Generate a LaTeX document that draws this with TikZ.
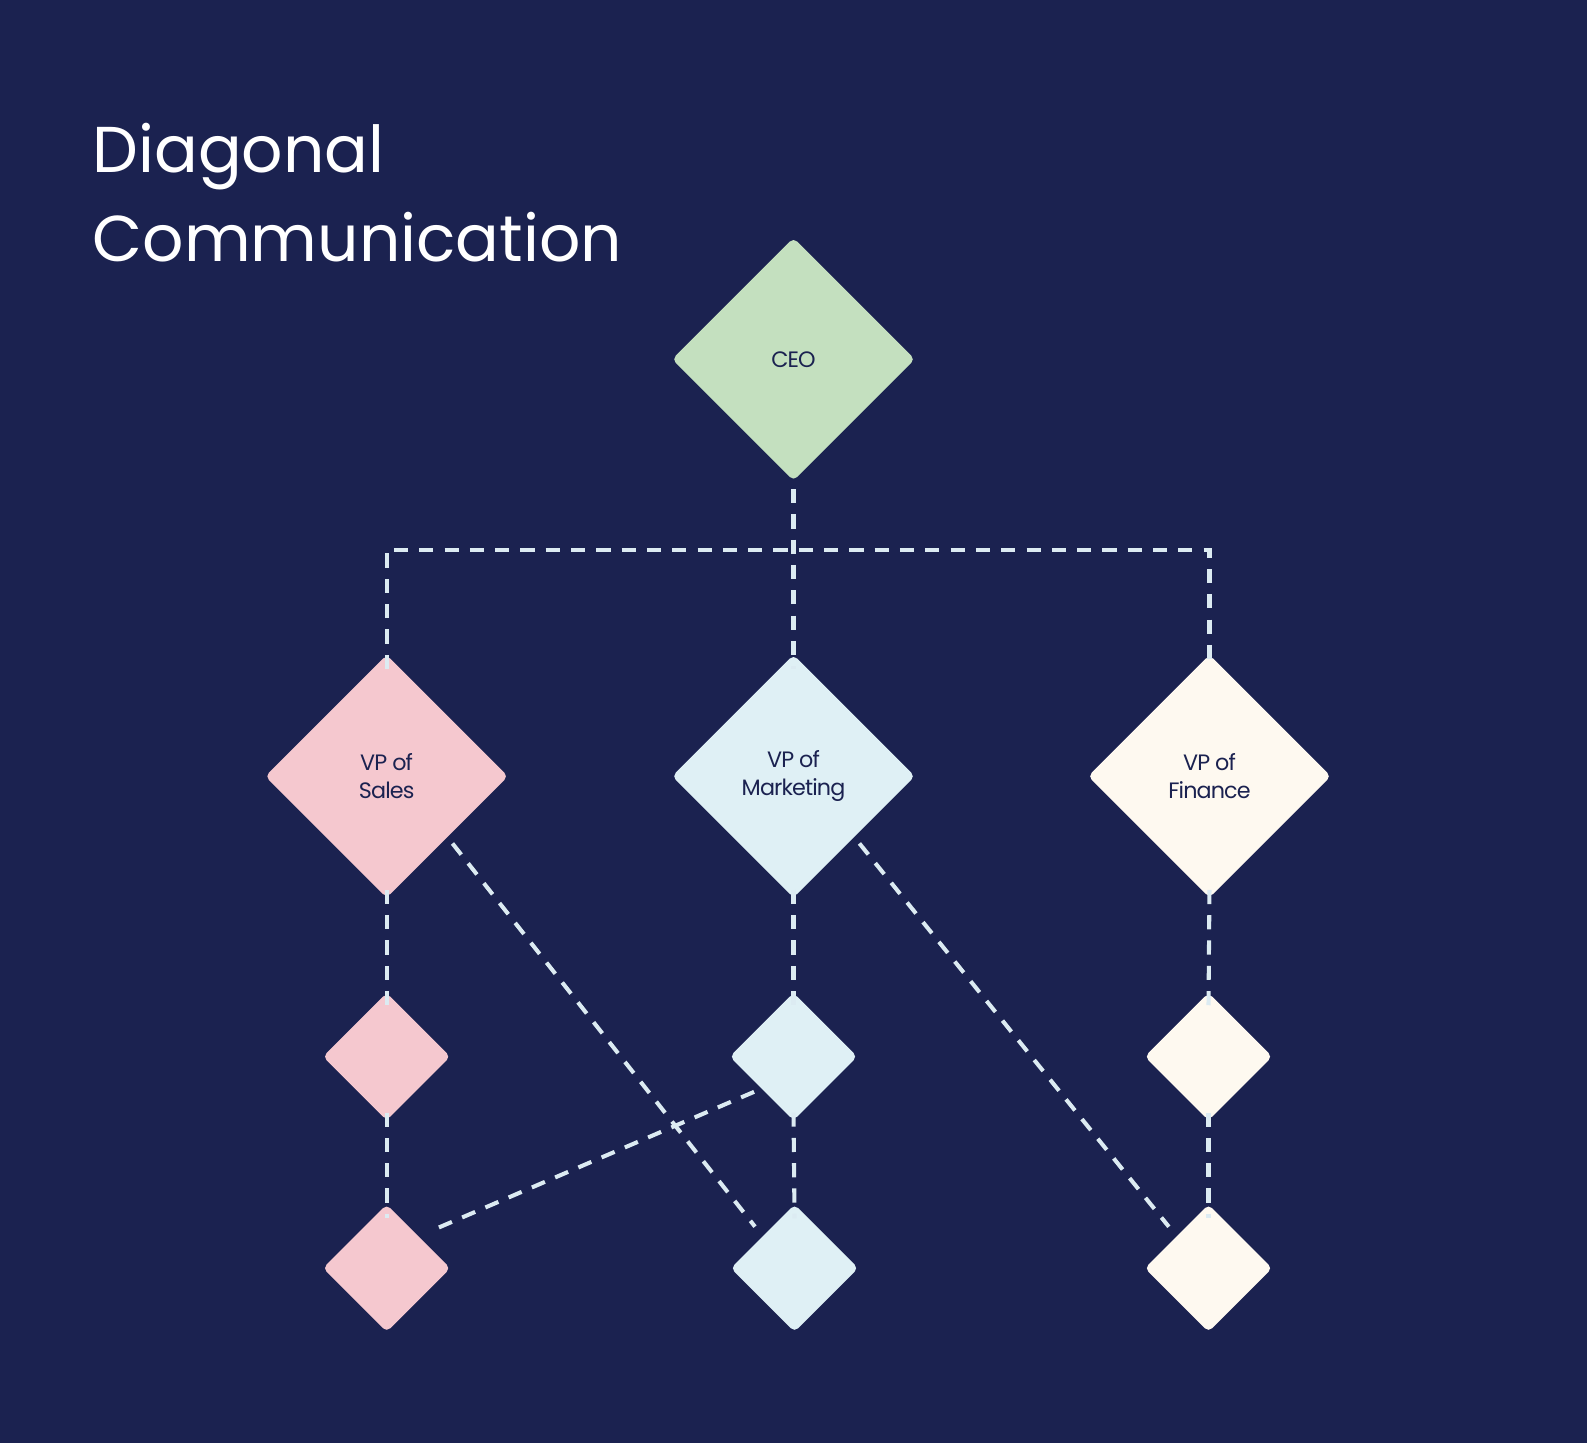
\documentclass[tikz,border=0pt]{standalone}
\usepackage{fontspec}
\setmainfont{Poppins}
\usetikzlibrary{shapes.geometric}
\definecolor{bg}{HTML}{1B2250}
\definecolor{ceo}{HTML}{C4E0BF}
\definecolor{pk}{HTML}{F5C8CF}
\definecolor{lb}{HTML}{DFF0F5}
\definecolor{cr}{HTML}{FEF9F0}
\definecolor{ln}{HTML}{DCEBF2}
\begin{document}
\begin{tikzpicture}[x=1pt,y=-1pt,
  dia/.style={diamond,aspect=1,inner sep=0,rounded corners=5pt,draw=none,text=bg,align=center,font=\fontsize{22}{28}\selectfont\addfontfeatures{LetterSpace=-4}},
  big/.style={dia,minimum width=240,minimum height=240},
  sm/.style={dia,minimum width=126,minimum height=126},
  dl/.style={draw=ln,line width=4,dash pattern=on 14 off 11},
  gap/.style={shorten >=12, shorten <=8}]
\fill[bg] (0,0) rectangle (1568,1426);
\useasboundingbox (0,0) rectangle (1568,1426);
\node[anchor=north west,text=white,align=left,font=\fontsize{64}{88}\selectfont] (title) at (88,118) {Diagonal\\Communication};
\node[big,fill=ceo] (ceo) at (784,355) {CEO};
\node[big,fill=pk] (sales) at (382,767) {VP of\\Sales};
\node[big,fill=lb] (mkt) at (784,767) {VP of\\Marketing};
\node[big,fill=cr] (fin) at (1195,767) {VP of\\Finance};
\node[sm,fill=pk] (s1) at (382,1044) {};
\node[sm,fill=lb] (m1) at (784,1044) {};
\node[sm,fill=cr] (f1) at (1194,1044) {};
\node[sm,fill=pk] (s2) at (382,1253) {};
\node[sm,fill=lb] (m2) at (785,1253) {};
\node[sm,fill=cr] (f2) at (1194,1253) {};
\coordinate (hl) at (382,543);
\coordinate (hr) at (1195,543);
\draw[dl] (ceo.south) ++(0,8) -- ([yshift=-14]mkt.north);
\draw[dl] ([yshift=-14]sales.north) -- (hl) -- (hr) -- ([yshift=-14]fin.north);
\draw[dl] ([yshift=8]sales.south) -- ([yshift=-14]s1.north);
\draw[dl] ([yshift=8]mkt.south) -- ([yshift=-14]m1.north);
\draw[dl] ([yshift=8]fin.south) -- ([yshift=-14]f1.north);
\draw[dl] ([yshift=8]s1.south) -- ([yshift=-14]s2.north);
\draw[dl] ([yshift=8]m1.south) -- ([yshift=-14]m2.north);
\draw[dl] ([yshift=8]f1.south) -- ([yshift=-14]f2.north);
\draw[dl,gap] (sales.south east) -- (m2.north west);
\draw[dl,gap] (mkt.south east) -- (f2.north west);
\draw[dl,gap] (m1.south west) -- (s2.north east);
\end{tikzpicture}
\end{document}
